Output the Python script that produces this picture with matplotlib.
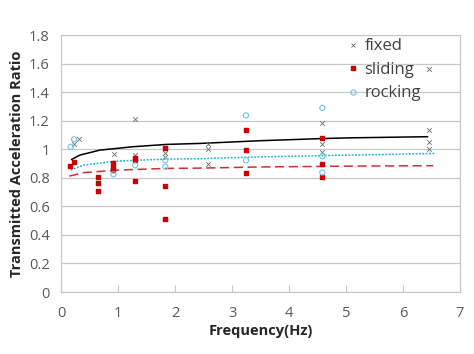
import matplotlib
matplotlib.use('Agg')
import matplotlib.pyplot as plt
from matplotlib.lines import Line2D

plt.rcParams['font.family'] = ['Open Sans', 'DejaVu Sans']

# 측정 데이터 (주파수, 전달 가속도비)
fixed_x = [0.23, 0.32, 0.93, 1.30, 1.30, 1.83, 1.83, 2.58, 2.58, 2.58,
           4.585, 4.585, 4.585, 6.456, 6.456, 6.456, 6.456]
fixed_y = [1.04, 1.075, 0.965, 1.213, 0.963, 0.975, 0.947, 1.04, 1.005, 0.895,
           1.185, 1.04, 0.98, 1.559, 1.134, 1.052, 1.0]

sliding_x = [0.16, 0.23, 0.655, 0.655, 0.655, 0.92, 0.92, 0.92, 1.30, 1.30, 1.30,
             1.83, 1.83, 1.83, 3.245, 3.245, 3.245, 4.585, 4.585, 4.585]
sliding_y = [0.881, 0.912, 0.806, 0.767, 0.711, 0.905, 0.874, 0.853, 0.94, 0.925, 0.776,
             1.012, 0.741, 0.514, 1.134, 0.998, 0.837, 1.08, 0.9, 0.804]

rocking_x = [0.17, 0.23, 0.92, 1.30, 1.83, 1.83, 3.245, 3.245, 4.585, 4.585, 4.585]
rocking_y = [1.017, 1.07, 0.825, 0.888, 0.877, 0.923, 1.237, 0.923, 1.29, 0.951, 0.837]

# 추세선
fixed_trend_x = [0.187, 0.33, 0.68, 1.27, 1.85, 2.44, 3.5, 4.585, 5.07, 6.43]
fixed_trend_y = [0.929, 0.959, 0.994, 1.018, 1.034, 1.041, 1.06, 1.075, 1.08, 1.088]

rocking_trend_x = [0.17, 0.39, 0.98, 1.85, 2.44, 3.5, 5.07, 6.56]
rocking_trend_y = [0.854, 0.889, 0.917, 0.931, 0.934, 0.947, 0.959, 0.971]

sliding_trend_x = [0.146, 0.39, 0.98, 1.85, 2.44, 3.5, 5.07, 6.53]
sliding_trend_y = [0.812, 0.836, 0.854, 0.866, 0.868, 0.876, 0.882, 0.885]

xticks = [0, 1, 2, 3, 4, 5, 6, 7]
yticks = [0, 0.2, 0.4, 0.6, 0.8, 1.0, 1.2, 1.4, 1.6, 1.8]
ytick_labels = ['0', '0.2', '0.4', '0.6', '0.8', '1', '1.2', '1.4', '1.6', '1.8']

fig = plt.figure(figsize=(4.74, 3.54), dpi=100)
ax = fig.add_axes([0.1287, 0.175, 0.8418, 0.726])

grid_c = '#c8c8c8'
for yv in yticks:
    ax.axhline(yv, color=grid_c, lw=0.9, zorder=0)

# 데이터 점
ax.scatter(fixed_x, fixed_y, marker='x', s=11, color='#6b6b6b', linewidths=0.6, zorder=3)
ax.scatter(sliding_x, sliding_y, marker='s', s=10, color='#cc0000', zorder=3)
ax.scatter(rocking_x, rocking_y, marker='o', s=14, facecolors='none',
           edgecolors='#6ec6e6', linewidths=0.8, zorder=3)

# 추세선
ax.plot(fixed_trend_x, fixed_trend_y, color='black', lw=1.1, zorder=2)
ax.plot(rocking_trend_x, rocking_trend_y, color='#1fb4cc', lw=1.1, ls=(0, (1.2, 1.0)), zorder=2)
ax.plot(sliding_trend_x, sliding_trend_y, color='#d03030', lw=1.1, ls=(0, (6, 3)), zorder=2)

ax.set_xlim(0, 7)
ax.set_ylim(0, 1.8)
ax.set_xticks(xticks)
ax.set_yticks(yticks)
ax.set_yticklabels(ytick_labels)
ax.tick_params(axis='x', direction='in', length=5, color=grid_c, labelsize=10.5,
               labelcolor='#595959', pad=10)
ax.tick_params(axis='y', length=0, labelsize=10.5, labelcolor='#595959', pad=8)
for sp in ax.spines.values():
    sp.set_color(grid_c)
    sp.set_linewidth(0.9)

ax.set_xlabel('Frequency(Hz)', fontsize=10.5, fontweight='bold', color='#262626', labelpad=2)
ax.set_ylabel('Transmitted Acceleration Ratio', fontsize=10.5, fontweight='bold',
              color='#262626', labelpad=4)

handles = [
    Line2D([], [], marker='x', ls='none', color='#6b6b6b', markersize=3.5, markeredgewidth=0.6),
    Line2D([], [], marker='s', ls='none', color='#cc0000', markersize=3.5),
    Line2D([], [], marker='o', ls='none', markerfacecolor='none', markeredgecolor='#6ec6e6',
           markersize=3.8, markeredgewidth=0.8),
]
leg = ax.legend(handles, ['fixed', 'sliding', 'rocking'], loc='upper left',
                bbox_to_anchor=(0.685, 1.045), frameon=False, fontsize=12,
                handlelength=0.5, handletextpad=0.4, labelspacing=0.45)
for t in leg.get_texts():
    t.set_color('#404040')

fig.savefig('out.png', dpi=100)
